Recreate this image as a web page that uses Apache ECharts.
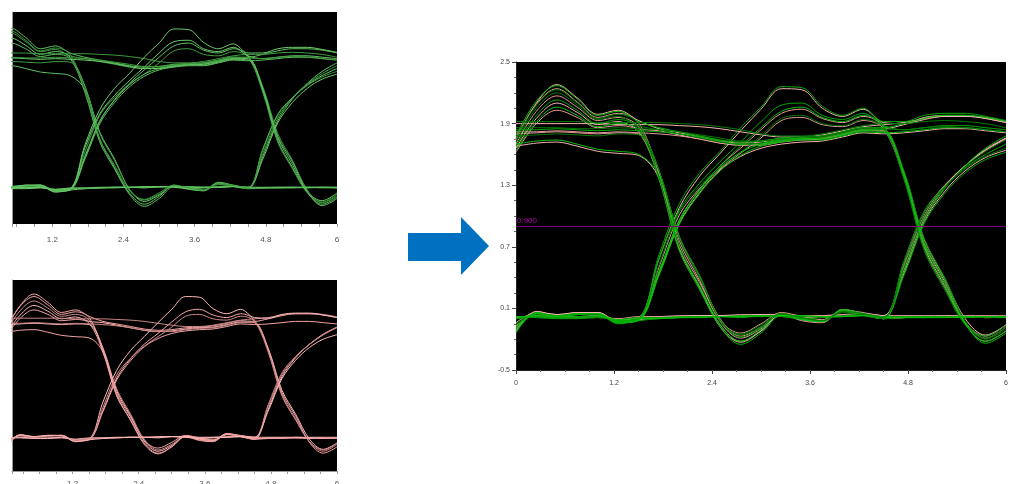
<!DOCTYPE html>
<html>
<head>
<meta charset="utf-8">
<script src="https://cdn.jsdelivr.net/npm/echarts@6/dist/echarts.min.js"></script>
<style>
html,body{margin:0;padding:0;background:#fff;}
#c{width:1016px;height:484px;}
</style>
</head>
<body>
<div id="c"></div>
<script>
// Sample times (UI axis) shared by every trace
const X = [0,0.25,0.5,0.75,1,1.25,1.5,1.75,2,2.25,2.5,2.75,3,3.25,3.5,3.75,4,4.25,4.5,4.75,5,5.25,5.5,5.75,6];

// Green traces (voltage at each sample time)
const G1  = [1.78,2.12,2.27,2.14,1.98,2.02,1.92, 1.86,1.82,1.78,1.74,1.72,1.73,1.76,1.77,1.78,1.82,1.86,1.86, 1.90,1.95,1.98,1.98,1.96,1.92];
const G2  = [1.72,2.05,2.20,2.08,1.94,1.97,1.88, 1.84,1.80,1.76,1.72,1.70,1.71,1.74,1.76,1.77,1.81,1.85,1.84, 1.44,0.78,0.40,-0.02,-0.20,-0.10];
const G3  = [1.68,1.98,2.13,2.03,1.90,1.94,1.86, 1.45,0.80,0.42,-0.01,-0.18,-0.09,0.04,0.00,-0.02,0.08,0.04,0.01, 0.56,1.05,1.29,1.47,1.60,1.70];
const G4  = [1.64,1.92,2.06,1.98,1.87,1.90,1.84, 1.36,0.66,0.28,-0.08,-0.25,-0.14,0.03,-0.01,-0.03,0.07,0.04,0.00, 0.01,0.02,0.02,0.01,0.02,0.02];
const G5  = [1.92,1.92,1.92,1.92,1.91,1.91,1.91, 1.91,1.90,1.89,1.87,1.84,1.80,1.78,1.78,1.80,1.84,1.88,1.90, 1.90,1.92,1.93,1.92,1.90,1.86];
const G6  = [1.84,1.84,1.85,1.84,1.83,1.84,1.83, 1.82,1.80,1.77,1.73,1.70,1.70,1.73,1.75,1.76,1.80,1.84,1.84, 1.38,0.68,0.30,-0.05,-0.17,-0.06];
const G7  = [1.70,1.73,1.74,1.70,1.65,1.63,1.60, 1.40,0.70,0.30,-0.06,-0.22,-0.11,0.05,0.00,-0.03,0.09,0.05,0.00, 0.46,0.96,1.27,1.49,1.66,1.78];
const G8  = [1.78,1.79,1.80,1.79,1.78,1.80,1.79, 1.44,0.78,0.40,-0.01,-0.16,-0.08,0.04,0.01,-0.02,0.06,0.03,0.00, 0.01,0.01,0.02,0.02,0.01,0.01];
const G9  = [0.00,0.02,0.01,0.01,0.02,-0.02,0.00, 0.62,1.12,1.42,1.63,1.86,2.06,2.26,2.25,2.07,1.98,2.05,1.92, 1.92,1.98,2.00,2.00,1.97,1.93];
const G10 = [-0.10,0.06,0.02,0.05,0.04,-0.04,-0.01, 0.46,0.95,1.26,1.49,1.68,1.86,2.02,2.06,1.96,1.92,1.98,1.88, 1.42,0.74,0.38,-0.04,-0.24,-0.14];
const G11 = [-0.05,0.05,0.03,0.04,0.05,-0.03,0.00, 0.01,0.01,0.02,0.02,0.02,0.03,0.03,0.02,0.02,0.03,0.04,0.02, 0.50,1.00,1.28,1.48,1.63,1.74];
const G12 = [0.02,0.01,0.00,0.00,0.01,-0.01,0.01, 0.01,0.02,0.02,0.02,0.03,0.03,0.03,0.02,0.02,0.02,0.03,0.02, 0.02,0.02,0.02,0.02,0.02,0.02];
const G13 = [-0.12,0.05,0.03,0.04,0.05,-0.04,-0.02, 0.42,0.92,1.22,1.44,1.59,1.68,1.72,1.74,1.74,1.78,1.82,1.81, 1.82,1.84,1.86,1.86,1.84,1.82];
const G14 = [-0.06,0.04,0.02,0.04,0.04,-0.03,0.00, 0.52,1.04,1.29,1.48,1.62,1.78,1.95,1.98,1.90,1.88,1.94,1.86, 1.36,0.66,0.28,-0.06,-0.19,-0.08];
const G15 = [-0.14,0.06,0.03,0.05,0.05,-0.05,-0.02, 0.00,0.01,0.02,0.02,0.01,0.03,0.02,0.00,0.01,0.02,0.03,0.02, 0.42,0.93,1.22,1.42,1.55,1.62];
const G16 = [0.01,0.03,0.02,0.02,0.03,-0.01,0.00, 0.00,0.01,0.01,0.02,0.02,0.02,0.03,0.03,0.02,0.02,0.03,0.01, 0.01,0.01,0.01,0.02,0.02,0.01];
const G17 = [1.75,2.08,2.23,2.10,1.95,1.99,1.90, 1.38,0.70,0.33,-0.03,-0.15,-0.06,0.05,0.01,-0.02,0.07,0.05,0.01, 0.55,1.04,1.28,1.46,1.58,1.66];
const G18 = [0.00,0.02,0.01,0.02,0.02,-0.02,0.00, 0.58,1.06,1.32,1.53,1.72,1.92,2.08,2.10,1.98,1.94,2.00,1.88, 1.84,1.86,1.88,1.88,1.86,1.84];
const G19 = [-0.08,0.05,0.02,0.04,0.05,-0.03,-0.01, 0.44,0.96,1.25,1.47,1.62,1.70,1.74,1.76,1.75,1.79,1.83,1.82, 1.40,0.72,0.34,-0.05,-0.22,-0.12];
const G20 = [1.86,1.86,1.86,1.85,1.85,1.86,1.85, 1.84,1.82,1.79,1.76,1.73,1.73,1.75,1.77,1.78,1.82,1.86,1.85, 1.84,1.86,1.87,1.86,1.84,1.82];

// Pink traces
const P1  = [1.74,2.10,2.28,2.15,1.99,2.03,1.93, 1.85,1.81,1.77,1.73,1.71,1.72,1.75,1.76,1.78,1.82,1.86,1.85, 1.89,1.94,1.97,1.97,1.95,1.91];
const P2  = [1.70,2.02,2.17,2.06,1.93,1.96,1.87, 1.44,0.79,0.40,0.00,-0.17,-0.08,0.05,0.01,-0.02,0.08,0.05,0.01, 0.54,1.04,1.30,1.49,1.64,1.75];
const P3  = [1.66,1.95,2.10,2.01,1.89,1.92,1.85, 1.83,1.79,1.75,1.71,1.69,1.70,1.73,1.75,1.76,1.80,1.84,1.83, 1.43,0.77,0.39,0.00,-0.16,-0.06];
const P4  = [1.62,1.90,2.03,1.96,1.86,1.88,1.82, 1.37,0.68,0.30,-0.08,-0.23,-0.12,0.04,-0.02,-0.04,0.09,0.05,0.00, 0.02,0.01,0.03,0.02,0.01,0.02];
const P5  = [1.90,1.90,1.90,1.90,1.90,1.89,1.89, 1.89,1.88,1.87,1.85,1.82,1.79,1.77,1.77,1.79,1.83,1.87,1.89, 1.91,1.95,1.97,1.97,1.96,1.92];
const P6  = [1.80,1.81,1.82,1.81,1.80,1.81,1.80, 1.42,0.76,0.37,-0.03,-0.19,-0.10,0.04,0.00,-0.02,0.07,0.04,0.00, 0.47,0.98,1.28,1.49,1.65,1.76];
const P7  = [1.68,1.71,1.72,1.68,1.63,1.61,1.59, 1.37,0.69,0.31,-0.06,-0.22,-0.12,0.04,-0.01,-0.03,0.08,0.04,0.00, 0.01,0.02,0.02,0.01,0.02,0.01];
const P8  = [1.82,1.82,1.83,1.82,1.81,1.82,1.81, 1.80,1.78,1.75,1.71,1.69,1.69,1.72,1.74,1.75,1.79,1.83,1.83, 1.39,0.70,0.32,-0.04,-0.19,-0.08];
const P9  = [0.01,0.03,0.02,0.02,0.03,-0.01,0.01, 0.58,1.08,1.39,1.61,1.83,2.04,2.24,2.23,2.05,1.97,2.04,1.91, 1.90,1.96,1.98,1.98,1.95,1.91];
const P10 = [-0.09,0.07,0.03,0.06,0.05,-0.03,0.00, 0.45,0.96,1.26,1.49,1.66,1.84,2.00,2.04,1.95,1.91,1.97,1.87, 1.41,0.73,0.36,-0.05,-0.22,-0.12];
const P11 = [-0.04,0.06,0.04,0.05,0.06,-0.02,0.01, 0.02,0.02,0.03,0.03,0.03,0.04,0.03,0.02,0.03,0.04,0.05,0.03, 0.51,1.01,1.29,1.49,1.64,1.76];
const P12 = [0.02,0.02,0.01,0.01,0.02,0.00,0.02, 0.02,0.03,0.03,0.03,0.04,0.04,0.04,0.03,0.03,0.03,0.04,0.03, 0.03,0.03,0.03,0.03,0.03,0.03];
const P13 = [-0.11,0.06,0.04,0.05,0.06,-0.03,-0.01, 0.43,0.93,1.23,1.45,1.58,1.66,1.70,1.72,1.73,1.77,1.81,1.80, 1.81,1.83,1.85,1.85,1.83,1.81];
const P14 = [-0.07,0.05,0.03,0.05,0.05,-0.02,0.00, 0.50,1.01,1.27,1.46,1.61,1.76,1.93,1.96,1.89,1.87,1.93,1.85, 1.37,0.68,0.30,-0.04,-0.17,-0.06];
const P15 = [-0.13,0.07,0.04,0.06,0.06,-0.04,-0.01, 0.01,0.02,0.03,0.03,0.02,0.04,0.03,0.01,0.02,0.03,0.04,0.03, 0.44,0.95,1.24,1.44,1.57,1.64];
const P16 = [1.76,2.09,2.24,2.11,1.96,2.00,1.91, 1.40,0.72,0.35,-0.02,-0.14,-0.05,0.06,0.02,-0.01,0.08,0.06,0.02, 0.01,0.02,0.02,0.02,0.01,0.02];

const GREEN = [G1,G2,G3,G4,G5,G6,G7,G8,G9,G10,G11,G12,G13,G14,G15,G16,G17,G18,G19,G20];
const PINK  = [P1,P2,P3,P4,P5,P6,P7,P8,P9,P10,P11,P12,P13,P14,P15,P16];

const THRESHOLD = 0.9;
const X_TICKS_BIG = 1.2;
const Y_TICKS_BIG = 0.6;

const chart = echarts.init(document.getElementById('c'), null, {renderer: 'canvas'});

const FONT = 'Liberation Sans, DejaVu Sans, sans-serif';
const isMajor = v => Math.abs(v / X_TICKS_BIG - Math.round(v / X_TICKS_BIG)) < 1e-6 && v > 0.6;
const fmtX = v => (Math.abs(v - Math.round(v)) < 1e-6) ? String(Math.round(v)) : v.toFixed(1);

function traceSeries(arr, xi, yi, colors, z) {
  return arr.map((tr, k) => ({
    type: 'line',
    xAxisIndex: xi, yAxisIndex: yi,
    data: X.map((x, i) => [x, tr[i]]),
    smooth: 0.35,
    showSymbol: false,
    silent: true,
    clip: true,
    z: z,
    lineStyle: {width: 1, color: colors[k % colors.length]}
  }));
}

const series = [].concat(
  traceSeries(GREEN, 0, 0, ['#5cbf5c', '#3e9a3e', '#6ccc6c'], 2),
  traceSeries(PINK, 1, 1, ['#f5a3a3', '#c98585', '#ffb8b8'], 2),
  traceSeries(PINK, 2, 2, ['#f7b3b3', '#e29a9a'], 2),
  traceSeries(GREEN, 2, 2, ['#00c000', '#007a00', '#00a800'], 3)
);

series.push({
  type: 'line', xAxisIndex: 2, yAxisIndex: 2, data: [], silent: true, z: 1,
  markLine: {
    symbol: 'none', silent: true,
    lineStyle: {color: '#800080', width: 1, type: 'solid'},
    label: {show: true, position: 'insideStartTop', formatter: THRESHOLD.toFixed(3),
            color: '#b000b0', fontSize: 8, fontFamily: FONT, distance: 1},
    data: [{yAxis: THRESHOLD}]
  }
});

const gridBase = {show: true, backgroundColor: '#000', borderWidth: 0, containLabel: false, outerBoundsMode: 'none'};

const option = {
  animation: false,
  backgroundColor: '#ffffff',
  grid: [
    Object.assign({left: 12, top: 12, width: 325, height: 212}, gridBase),
    Object.assign({left: 12, top: 280, width: 325, height: 191}, gridBase),
    Object.assign({left: 516, top: 62, width: 490, height: 308}, gridBase)
  ],
  xAxis: [
    {type: 'value', gridIndex: 0, min: 0.52, max: 6, splitNumber: 18,
     axisLine: {show: false, onZero: false}, splitLine: {show: false},
     axisTick: {show: true, length: 3, lineStyle: {color: '#999'}},
     axisLabel: {show: true, fontSize: 8, color: '#555', fontFamily: FONT, margin: 12,
                 formatter: v => isMajor(v) ? fmtX(v) : ''}},
    {type: 'value', gridIndex: 1, min: 0.1, max: 6, splitNumber: 20,
     axisLine: {show: true, onZero: false, lineStyle: {color: '#999'}}, splitLine: {show: false},
     axisTick: {show: true, length: 3, lineStyle: {color: '#999'}},
     axisLabel: {show: true, fontSize: 8, color: '#555', fontFamily: FONT, margin: 9,
                 formatter: v => isMajor(v) ? fmtX(v) : ''}},
    {type: 'value', gridIndex: 2, min: 0, max: 6, interval: X_TICKS_BIG,
     axisLine: {show: true, onZero: false, lineStyle: {color: '#222'}}, splitLine: {show: false},
     axisTick: {show: true, length: 4, lineStyle: {color: '#444'}},
     minorTick: {show: true, splitNumber: 4, length: 2, lineStyle: {color: '#666'}},
     axisLabel: {show: true, fontSize: 7, color: '#444', fontFamily: FONT, margin: 10,
                 formatter: v => fmtX(v)}}
  ],
  yAxis: [
    {type: 'value', gridIndex: 0, min: -0.5, max: 2.5,
     axisLine: {show: true, onZero: false, lineStyle: {color: '#999'}}, splitLine: {show: false},
     axisTick: {show: false}, axisLabel: {show: false}},
    {type: 'value', gridIndex: 1, min: -0.5, max: 2.5,
     axisLine: {show: true, onZero: false, lineStyle: {color: '#999'}}, splitLine: {show: false},
     axisTick: {show: false}, axisLabel: {show: false}},
    {type: 'value', gridIndex: 2, min: -0.5, max: 2.5, interval: Y_TICKS_BIG,
     axisLine: {show: true, onZero: false, lineStyle: {color: '#222'}}, splitLine: {show: false},
     axisTick: {show: true, length: 4, lineStyle: {color: '#444'}},
     minorTick: {show: true, splitNumber: 4, length: 2, lineStyle: {color: '#666'}},
     axisLabel: {show: true, fontSize: 7, color: '#444', fontFamily: FONT, margin: 6,
                 formatter: v => v.toFixed(1)}}
  ],
  graphic: [
    {type: 'polygon', silent: true,
     shape: {points: [[408,233],[461,233],[461,217],[489,246],[461,275],[461,261],[408,261]]},
     style: {fill: '#0070c0'}}
  ],
  series: series
};

chart.setOption(option);
</script>
</body>
</html>
